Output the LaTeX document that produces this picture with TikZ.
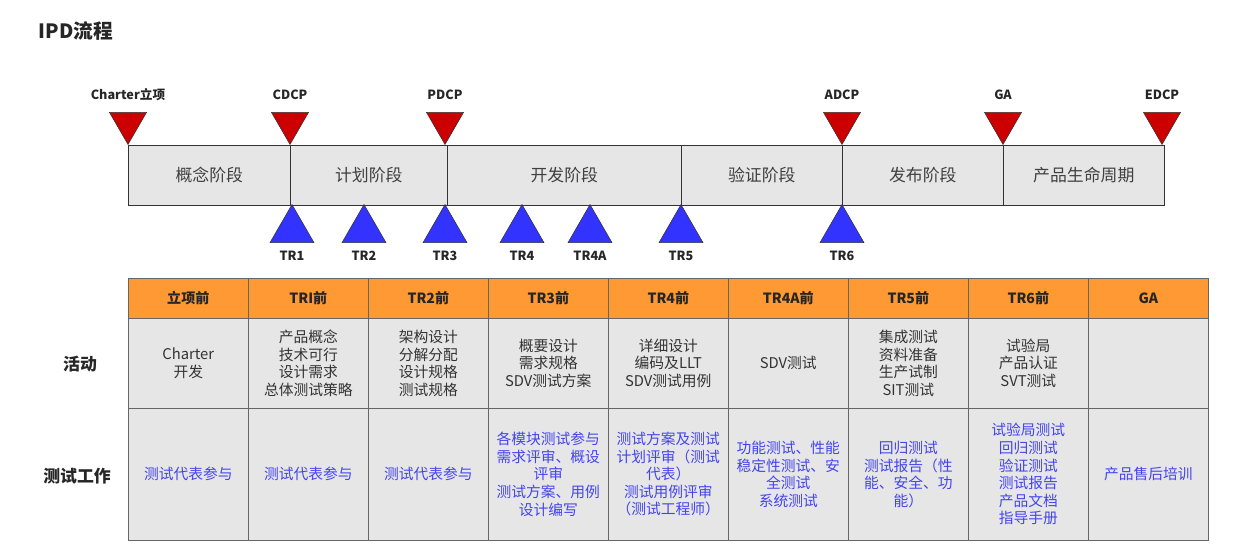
\documentclass[tikz,border=0pt]{standalone}
\usepackage{fontspec}
\setmainfont{Noto Sans CJK SC}
\usetikzlibrary{shapes.geometric}
\definecolor{cellgray}{HTML}{E6E6E6}
\definecolor{hdrorange}{HTML}{FF9933}
\definecolor{mkred}{HTML}{CC0000}
\definecolor{mkblue}{HTML}{3333FF}
\definecolor{txtblue}{HTML}{4444EE}
\begin{document}
\begin{tikzpicture}[x=0.025cm,y=-0.025cm,
phase/.style={draw=black!80,fill=cellgray,minimum height=1.5cm,inner sep=0pt,font=\fontsize{12}{14}\selectfont,text=black!75,anchor=north west},
redmk/.style={isosceles triangle,isosceles triangle apex angle=60,shape border rotate=-90,draw=black!80,fill=mkred,minimum height=0.8cm,inner sep=0pt,anchor=apex},
bluemk/.style={isosceles triangle,isosceles triangle apex angle=60,shape border rotate=90,draw=black!80,fill=mkblue,minimum height=0.95cm,inner sep=0pt,anchor=apex},
mlabel/.style={font=\bfseries\fontsize{9}{10}\selectfont,text=black!85},
hdr/.style={draw=black!60,fill=hdrorange,minimum width=3cm,minimum height=1cm,inner sep=0pt,anchor=north west,font=\bfseries\fontsize{10}{12}\selectfont,text=black!85},
cell/.style={draw=black!60,fill=cellgray,minimum width=3cm,inner sep=0pt,anchor=north west,align=center,font=\fontsize{10.5}{12.5}\selectfont,text=black!80},
row/.style={font=\bfseries\fontsize{12}{14}\selectfont,text=black!85}
]
\useasboundingbox (0,0) rectangle (1234,558);
\node[font=\bfseries\fontsize{14}{16}\selectfont,text=black!85] (title) at (76,31) {IPD流程};
% phase bar
\foreach \x/\w/\t [count=\i] in {128/162/概念阶段,290/157/计划阶段,447/234/开发阶段,681/161/验证阶段,842/161/发布阶段,1003/161/产品生命周期}
  \node[phase,minimum width=\w*0.025cm] (ph\i) at (\x,145) {\t};
% decision points
\foreach \x/\t [count=\i] in {128/Charter立项,290/CDCP,445/PDCP,842/ADCP,1003/GA,1162/EDCP}{
  \node[redmk] (dp\i) at (\x,145) {};
  \node[mlabel] (dpl\i) at (\x,95) {\t};
}
% technical reviews
\foreach \x/\t [count=\i] in {292/TR1,364/TR2,445/TR3,522/TR4,590/TR4A,681/TR5,842/TR6}{
  \node[bluemk] (tr\i) at (\x,204) {};
  \node[mlabel] (trl\i) at (\x,256) {\t};
}
% table
\foreach \t [count=\i] in {立项前,TRI前,TR2前,TR3前,TR4前,TR4A前,TR5前,TR6前,GA}
  \node[hdr] (h\i) at ({128+120*(\i-1)},278) {\t};
\foreach \t [count=\i] in {Charter\\开发,产品概念\\技术可行\\设计需求\\总体测试策略,架构设计\\分解分配\\设计规格\\测试规格,概要设计\\需求规格\\SDV测试方案,详细设计\\编码及LLT\\SDV测试用例,SDV测试,集成测试\\资料准备\\生产试制\\SIT测试,试验局\\产品认证\\SVT测试,{}}
  \node[cell,minimum height=2.25cm] (a\i) at ({128+120*(\i-1)},318) {\t};
\foreach \t [count=\i] in {测试代表参与,测试代表参与,测试代表参与,各模块测试参与\\需求评审、概设\\评审\\测试方案、用例\\设计编写,测试方案及测试\\计划评审（测试\\代表）\\测试用例评审\\（测试工程师）,功能测试、性能\\稳定性测试、安\\全测试\\系统测试,回归测试\\测试报告（性\\能、安全、功\\能）,试验局测试\\回归测试\\验证测试\\测试报告\\产品文档\\指导手册,产品售后培训}
  \node[cell,minimum height=3.3cm,text=txtblue] (b\i) at ({128+120*(\i-1)},408) {\t};
\node[row] (r1) at (80,364) {活动};
\node[row] (r2) at (77,476) {测试工作};
\end{tikzpicture}
\end{document}
